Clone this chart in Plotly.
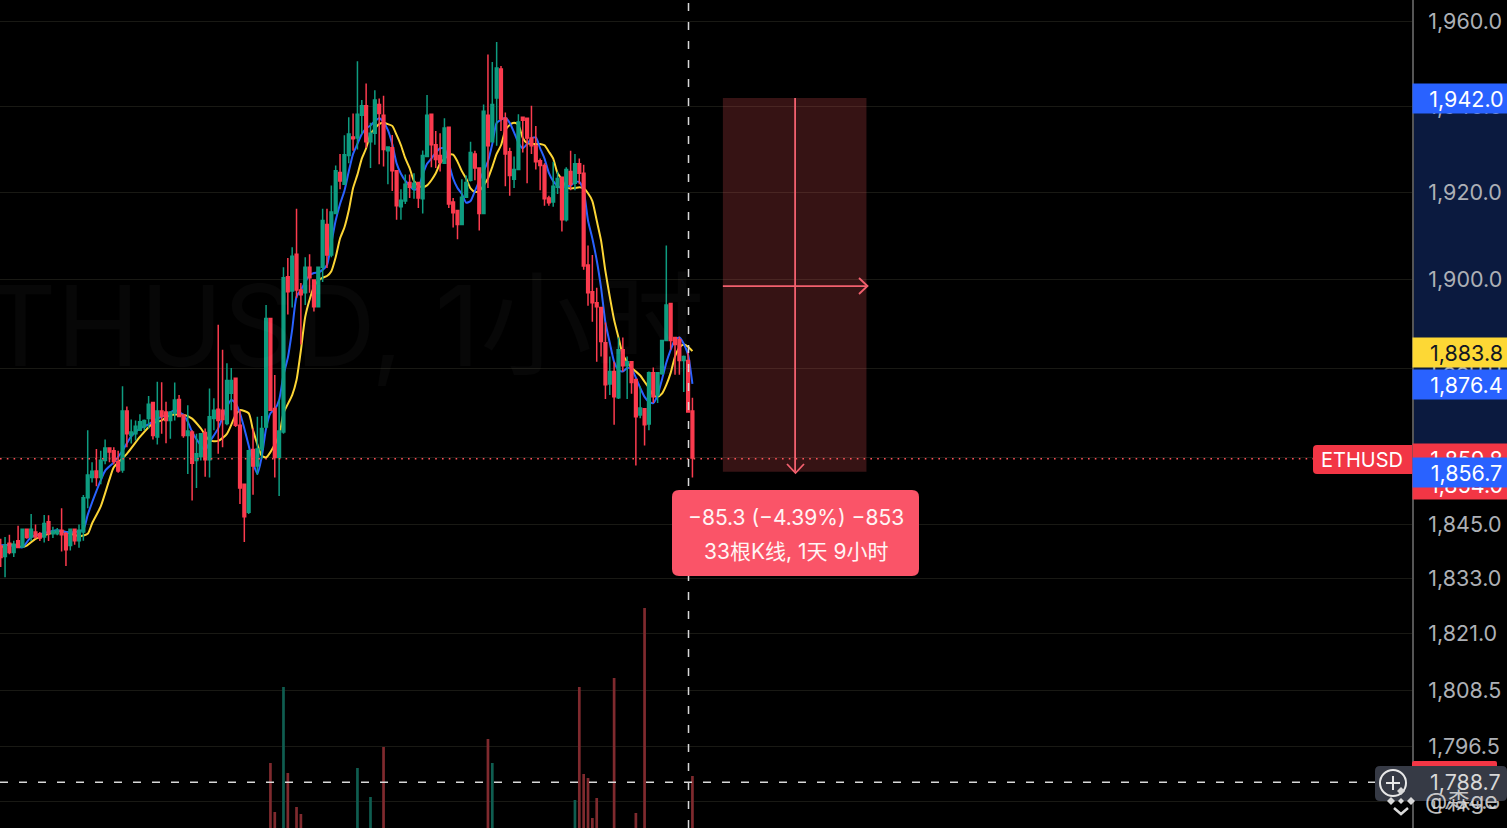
import numpy as np
import plotly.graph_objects as go

# prices, one entry per bar (bar 0 = leftmost)
opens = [1840.2,1837.9,1840.8,1838.8,1841.4,1840.0,1843.9,1842.2,1843.3,1842.9,
         1842.2,1845.6,1842.9,1842.9,1843.7,1842.9,1840.3,1843.9,1841.4,1843.3,
         1850.9,1855.4,1856.9,1855.4,1859.2,1862.0,1861.4,1859.0,1857.1,1870.3,
         1864.8,1865.2,1866.0,1866.7,1868.6,1872.2,1864.5,1870.3,1870.1,1868.2,
         1869.8,1872.9,1869.4,1864.8,1865.6,1859.2,1860.1,1865.5,1859.4,1868.6,
         1870.7,1870.5,1867.5,1874.3,1877.7,1867.1,1853.9,1847.7,1861.7,1858.0,
         1861.8,1866.7,1891.2,1870.9,1859.9,1865.6,
         1900.7,1897.5,1905.9,1897.7,1897.1,1902.9,1900.0,1893.9,1902.9,1912.7,
         1905.7,1915.2,1924.7,1922.0,1928.6,1932.9,1932.7,1938.0,1940.2,1931.8,
         1933.8,1940.5,1938.0,1929.7,1930.4,1925.1,1916.8,1918.1,1922.4,1921.1,
         1922.4,1918.6,1928.4,1938.2,1931.1,1928.6,1926.8,1935.2,1917.9,1915.9,
         1912.7,1919.0,1922.9,1929.0,1925.7,1915.2,1938.0,1931.8,1942.0,
         1948.8,1937.3,1929.5,1923.1,1925.4,1937.5,1937.3,1932.7,1930.9,1927.4,
         1926.3,1918.8,1917.9,1921.3,1923.6,1913.8,1924.9,1922.2,1926.7,1924.5,
         1903.4,1897.3,1894.8,1893.7,1885.7,1876.4,1879.2,1873.3,1884.1,1880.5,
         1881.4,1877.4,1869.4,1870.8,1867.4,1878.9,1873.9,1878.7,1886.2,1894.6,
         1886.9,1886.4,1881.7,1881.7,1870.3]
highs = [1841.8,1842.2,1842.7,1841.4,1844.7,1844.0,1844.0,1847.3,1845.0,1843.3,
         1847.1,1847.0,1844.5,1844.2,1848.6,1843.3,1844.0,1844.0,1845.0,1851.5,
         1866.0,1858.8,1861.8,1861.4,1863.9,1862.2,1862.2,1861.4,1875.9,1871.3,
         1868.4,1868.2,1869.6,1868.4,1873.7,1872.3,1876.9,1876.8,1872.4,1870.2,
         1876.7,1873.9,1869.6,1871.6,1866.0,1865.2,1865.3,1866.4,1875.4,1873.2,
         1889.8,1884.1,1881.1,1880.0,1877.8,1870.5,1854.0,1861.6,1866.4,1869.0,
         1869.2,1894.3,1891.4,1878.4,1872.8,1902.9,
         1905.0,1907.5,1916.3,1899.3,1905.2,1905.9,1900.1,1903.0,1916.3,1916.3,
         1921.7,1926.3,1929.0,1933.3,1937.5,1938.4,1950.6,1941.5,1945.4,1936.2,
         1943.8,1941.9,1942.5,1930.7,1933.4,1925.2,1920.8,1924.2,1924.2,1924.5,
         1922.5,1929.8,1942.7,1938.3,1934.3,1933.8,1937.3,1935.3,1918.8,1916.0,
         1923.1,1924.0,1931.8,1929.7,1925.8,1940.5,1952.2,1950.4,1955.1,
         1949.5,1938.6,1930.4,1928.4,1938.2,1937.6,1937.4,1940.2,1935.5,1927.9,
         1926.8,1919.3,1927.2,1924.9,1923.7,1925.9,1929.7,1929.0,1927.9,1926.5,
         1907.9,1905.7,1898.2,1893.8,1890.3,1882.6,1881.4,1886.9,1886.9,1882.6,
         1881.5,1877.6,1875.8,1870.9,1879.2,1880.1,1879.0,1886.3,1907.9,1894.7,
         1887.1,1887.1,1882.8,1883.7,1873.3]
lows = [1835.6,1833.3,1838.4,1837.8,1839.7,1839.8,1841.8,1841.3,1841.8,1841.3,
        1841.0,1841.3,1842.0,1842.6,1839.0,1835.8,1839.2,1840.5,1839.8,1841.4,
        1848.6,1854.3,1853.5,1853.9,1858.4,1858.8,1858.3,1856.5,1856.5,1862.2,
        1863.0,1863.7,1865.9,1866.0,1866.4,1863.9,1862.8,1865.2,1863.1,1864.1,
        1868.2,1869.0,1864.3,1856.2,1850.3,1853.1,1859.2,1855.6,1855.4,1866.0,
        1860.7,1862.2,1867.1,1870.5,1866.7,1849.5,1841.1,1847.3,1851.6,1856.0,
        1859.6,1866.4,1870.3,1855.4,1851.3,1865.2,
        1892.1,1893.7,1895.9,1885.3,1894.3,1897.1,1892.8,1893.7,1899.5,1902.7,
        1905.2,1915.1,1920.8,1921.9,1926.8,1929.7,1930.0,1933.6,1930.4,1925.7,
        1931.1,1926.6,1926.1,1922.0,1920.4,1913.8,1913.8,1917.4,1918.8,1918.6,
        1916.5,1915.2,1928.3,1925.9,1925.7,1924.9,1926.7,1916.5,1912.0,1909.3,
        1912.6,1918.9,1922.6,1922.9,1911.3,1915.1,1921.1,1931.7,1930.9,
        1934.3,1921.5,1919.3,1921.1,1925.3,1929.3,1922.2,1929.0,1925.4,1920.6,
        1917.0,1917.0,1916.8,1919.7,1911.1,1913.4,1920.6,1920.6,1922.0,1902.3,
        1894.1,1890.5,1881.4,1882.6,1873.0,1873.9,1867.2,1873.0,1879.2,1873.0,
        1874.2,1858.1,1868.7,1862.6,1866.0,1872.1,1872.1,1878.5,1886.1,1884.1,
        1878.5,1878.5,1874.6,1870.0,1855.4]
closes = [1837.7,1840.4,1838.8,1840.6,1839.9,1843.9,1842.1,1843.9,1842.2,1842.0,
          1845.2,1842.9,1843.5,1843.7,1842.7,1839.4,1843.9,1841.4,1843.7,1850.9,
          1856.0,1856.8,1855.4,1859.3,1862.0,1861.1,1859.0,1856.9,1870.3,1865.2,
          1865.6,1866.9,1867.9,1868.2,1871.8,1864.8,1870.3,1869.1,1868.2,1870.1,
          1872.8,1869.1,1864.8,1865.8,1858.6,1860.7,1865.2,1859.4,1869.0,1870.5,
          1868.2,1868.4,1877.2,1877.2,1867.1,1853.1,1846.7,1861.4,1858.0,1861.8,
          1866.4,1891.2,1870.5,1859.9,1865.8,1900.5,
          1897.3,1905.4,1897.7,1896.6,1902.9,1900.5,1893.9,1902.9,1913.6,1905.7,
          1915.6,1925.1,1922.7,1928.8,1933.6,1932.5,1938.2,1940.2,1931.8,1933.8,
          1941.5,1938.4,1930.0,1930.6,1925.1,1917.0,1918.3,1922.0,1921.3,1922.2,
          1918.8,1928.6,1938.0,1931.1,1927.7,1927.0,1935.0,1917.4,1915.4,1912.7,
          1919.0,1922.4,1929.3,1925.7,1915.2,1938.9,1930.9,1940.5,1949.0,
          1937.1,1929.0,1924.0,1925.4,1936.4,1936.8,1932.7,1930.9,1927.2,1926.3,
          1918.6,1917.7,1921.5,1923.3,1913.8,1925.4,1922.0,1926.7,1924.5,1903.2,
          1897.1,1894.8,1893.9,1886.0,1876.2,1879.2,1873.5,1884.1,1880.5,1881.4,
          1876.7,1869.0,1871.0,1867.2,1878.9,1873.5,1878.9,1886.2,1894.3,1886.2,
          1885.3,1881.7,1882.6,1870.1,1859.8]

# slow average (yellow)
slow_idx = [0,2,5,6,8,11,13,15,18,20,21,23,25,26,29,32,35,37,39,42,44,46,48,50,52,54,55,57,58,60,61,62,64,65,67,
            68,69,70,71,72,73,74,75,76,77,78,79,80,81,82,83,84,85,86,87,88,89,90,91,92,93,94,95,96,97,98,99,100,
            101,102,103,104,105,106,107,108,109,110,111,112,113,114,115,116,117,118,119,120,121,122,123,124,125,
            126,127,128,129,130,131,132,133,134,135,136,137,138,139,140,141,142,143,144,145,146,147,148,149,150,
            151,152,153,154,155,156,157,158,159]
slow_ma = [1839.9,1840.6,1840.0,1840.3,1841.8,1842.9,1843.5,1843.3,1842.4,1842.9,1845.2,1849.0,1855.0,1857.7,
           1860.7,1864.5,1867.6,1868.2,1869.4,1869.5,1868.6,1866.4,1863.7,1863.6,1865.2,1869.4,1870.5,1869.8,
           1866.0,1860.3,1859.9,1861.1,1864.8,1869.8,1873.9,1877.3,1884.0,1891.6,1895.5,1898.4,1899.8,1900.5,
           1900.9,1902.0,1905.2,1909.5,1912.0,1915.9,1921.1,1924.2,1927.9,1930.3,1933.6,1934.9,1935.9,1936.2,
           1935.9,1935.5,1933.4,1931.0,1928.0,1925.7,1922.7,1921.7,1921.3,1921.7,1922.9,1924.5,1926.8,1927.9,
           1928.8,1928.8,1927.2,1925.0,1923.3,1921.0,1920.2,1920.4,1921.7,1923.3,1926.0,1929.0,1931.0,1934.5,
           1935.7,1936.2,1935.7,1932.7,1931.5,1931.3,1931.3,1931.3,1931.0,1929.5,1927.9,1924.5,1923.1,1921.3,
           1921.0,1921.1,1921.3,1921.0,1919.9,1918.1,1913.6,1909.0,1902.0,1896.2,1890.9,1886.9,1883.0,1881.4,
           1880.0,1879.2,1878.3,1876.9,1875.5,1873.9,1873.5,1874.2,1876.2,1878.9,1882.6,1884.6,1885.3,1884.8,1883.8]

# fast average (blue)
fast_idx = [0,2,4,5,7,9,11,13,15,17,19,20,22,24,26,28,30,32,34,36,38,40,42,43,44,46,47,48,50,52,53,54,55,56,57,
            58,59,60,61,62,63,64,65,66,67,68,69,70,71,72,73,74,75,76,77,78,79,80,81,82,83,84,85,86,87,88,89,90,
            91,92,93,94,95,96,97,98,99,100,101,102,103,104,105,106,107,108,109,110,111,112,113,114,115,116,117,
            118,119,120,121,122,123,124,125,126,127,128,129,130,131,132,133,134,135,136,137,138,139,140,141,142,
            143,144,145,146,147,148,149,150,151,152,153,154,155,156,157,158,159]
fast_ma = [1840.4,1840.4,1840.0,1839.9,1842.2,1842.8,1843.3,1843.7,1843.3,1843.3,1843.9,1847.1,1852.4,1856.9,
           1858.8,1861.4,1864.6,1866.4,1867.3,1868.6,1869.4,1870.5,1869.4,1867.9,1865.6,1862.6,1861.4,1863.3,
           1866.4,1871.3,1872.8,1872.0,1869.8,1866.4,1862.6,1858.8,1856.2,1860.0,1866.4,1869.8,1870.7,1872.8,
           1878.4,1882.3,1888.7,1896.2,1897.7,1899.5,1901.1,1901.6,1901.7,1902.3,1903.4,1908.4,1913.6,1917.4,
           1920.4,1924.9,1929.0,1931.3,1933.6,1934.9,1935.6,1936.6,1937.3,1936.4,1934.5,1931.3,1926.8,1924.4,
           1922.8,1921.6,1920.7,1921.1,1924.2,1926.7,1927.9,1929.3,1930.3,1930.3,1926.9,1923.3,1921.1,1919.7,
           1917.7,1918.1,1920.4,1922.7,1925.0,1927.3,1931.3,1936.2,1936.9,1937.4,1936.2,1934.0,1931.6,1930.3,
           1931.3,1932.6,1932.8,1930.3,1927.9,1924.6,1922.7,1921.6,1921.1,1921.6,1921.6,1922.5,1922.5,1920.4,
           1913.6,1909.5,1904.5,1898.2,1890.3,1885.7,1881.4,1879.6,1879.2,1880.0,1879.8,1877.8,1875.5,1873.5,
           1872.4,1872.1,1873.9,1877.4,1881.2,1884.1,1886.4,1886.9,1885.5,1883.0,1876.4]

# only the volume bars tall enough to show above the bottom edge
vol_idx = [62,63,65,66,68,69,82,85,88,112,113,132,133,134,135,136,137,141,146,148,159]
vol_val = [137,88,213,127,93,86,132,103,153,161,137,100,213,126,122,82,102,222,87,292,124]
vol_up = [65,82,85,113,132]

tick_prices = [1960,1940,1920,1900,1880,1860,1845,1833,1821,1808.5,1796.5,1784.5]
tick_labels = ["1,960.0","1,940.0","1,920.0","1,900.0","1,880.0","1,860.0","1,845.0",
               "1,833.0","1,821.0","1,808.5","1,796.5","1,784.5"]

W, H, PLOT_W = 1507, 828, 1412
GREEN, RED = "#0e9c80", "#fb3b4e"
FONT = "Inter, Noto Sans CJK SC, sans-serif"
y_range = [np.log10(1778.9), np.log10(1965.0)]
x_range = [-0.16, 324.4]

def px(x):
    return x / PLOT_W

def py(y):
    return 1 - y / H

def rounded(x0, y0, x1, y1, r, left=True, right=True):
    # rounded rect in page pixels, returned as a paper-coordinates path
    rl = r if left else 0
    rr = r if right else 0
    return (f"M {px(x0+rl)},{py(y0)} L {px(x1-rr)},{py(y0)} Q {px(x1)},{py(y0)} {px(x1)},{py(y0+rr)} "
            f"L {px(x1)},{py(y1-rr)} Q {px(x1)},{py(y1)} {px(x1-rr)},{py(y1)} L {px(x0+rl)},{py(y1)} "
            f"Q {px(x0)},{py(y1)} {px(x0)},{py(y1-rl)} L {px(x0)},{py(y0+rl)} Q {px(x0)},{py(y0)} {px(x0+rl)},{py(y0)} Z")

def page_text(text, x, y, size, color):
    return dict(text=text, xref="paper", yref="paper", x=px(x), y=py(y), xanchor="center", yanchor="middle",
                showarrow=False, font=dict(family=FONT, size=size, color=color))

fig = go.Figure()

fig.add_trace(go.Scatter(x=slow_idx, y=slow_ma, mode="lines", yaxis="y",
                         line=dict(color="#fcd535", width=2, shape="spline", smoothing=0.6), hoverinfo="skip"))
fig.add_trace(go.Scatter(x=fast_idx, y=fast_ma, mode="lines", yaxis="y",
                         line=dict(color="#2962ff", width=2, shape="spline", smoothing=0.6), hoverinfo="skip"))
fig.add_trace(go.Bar(x=vol_idx, y=vol_val, width=0.62, yaxis="y3", hoverinfo="skip",
                     marker=dict(color=["#0f5d50" if i in vol_up else "#7f2a2e" for i in vol_idx], line_width=0)))
fig.add_trace(go.Candlestick(x=list(range(len(opens))), open=opens, high=highs, low=lows, close=closes,
                             yaxis="y2", whiskerwidth=0, hoverinfo="skip",
                             increasing=dict(line=dict(color=GREEN, width=1.5), fillcolor=GREEN),
                             decreasing=dict(line=dict(color=RED, width=1.5), fillcolor=RED)))

shapes = [
    # navy band on the price scale between the measured prices
    dict(type="rect", xref="paper", yref="y", x0=1, x1=px(W), y0=1856.7, y1=1942.0, layer="below",
         fillcolor="#0b1a3f", line_width=0),
    # last price dotted line
    dict(type="line", xref="paper", yref="y", x0=0, x1=px(1315), y0=1859.6, y1=1859.6,
         line=dict(color="#ff5058", width=1.6, dash="1.6px,5.2px")),
    # crosshair
    dict(type="line", xref="x", yref="paper", x0=158.1, x1=158.1, y0=0, y1=1,
         line=dict(color="#d8d8d8", width=1.5, dash="8px,11px")),
    dict(type="line", xref="paper", yref="y", x0=0, x1=px(1376), y0=1788.7, y1=1788.7,
         line=dict(color="#d8d8d8", width=1.5, dash="8px,11px")),
    # measure tool
    dict(type="rect", xref="x", yref="y", x0=166, x1=199, y0=1856.7, y1=1942.0,
         fillcolor="rgba(255,90,95,0.21)", line_width=0),
    dict(type="line", xref="x", yref="y", x0=182.6, x1=182.6, y0=1856.7, y1=1942.0, line=dict(color="#f2606e", width=1.8)),
    dict(type="line", xref="x", yref="y", x0=166, x1=199, y0=1898.6, y1=1898.6, line=dict(color="#f2606e", width=1.8)),
    dict(type="path", xref="paper", yref="paper", line=dict(color="#f2606e", width=1.8),
         path=f"M {px(787)},{py(464)} L {px(795.5)},{py(473)} L {px(804)},{py(464)}"),
    dict(type="path", xref="paper", yref="paper", line=dict(color="#f2606e", width=1.8),
         path=f"M {px(859)},{py(278)} L {px(867.5)},{py(286)} L {px(859)},{py(294)}"),
    dict(type="path", xref="paper", yref="paper", fillcolor="#fa5468", line_width=0,
         path=rounded(672, 490, 919, 576, 7)),
    # symbol flag
    dict(type="path", xref="paper", yref="paper", fillcolor="#f23645", line_width=0,
         path=rounded(1313, 445, 1412, 474, 4, right=False)),
    # scale stripes and crosshair tag
    dict(type="path", xref="paper", yref="paper", fillcolor="#f23645", line_width=0,
         path=rounded(1412, 761, 1497, 770, 2)),
    dict(type="path", xref="paper", yref="paper", fillcolor="#363a45", line_width=0,
         path=rounded(1375, 766, 1507, 801, 5)),
    dict(type="circle", xref="paper", yref="paper", x0=px(1380), x1=px(1406), y0=py(770), y1=py(796),
         line=dict(color="#e8e8e8", width=2)),
    dict(type="line", xref="paper", yref="paper", x0=px(1386), x1=px(1400), y0=py(783), y1=py(783),
         line=dict(color="#e8e8e8", width=2)),
    dict(type="line", xref="paper", yref="paper", x0=px(1393), x1=px(1393), y0=py(776), y1=py(790),
         line=dict(color="#e8e8e8", width=2)),
]
# small diamond logo of the watermark
for cx, cy, r in [(1401, 791, 4), (1391, 801, 4), (1411, 801, 4), (1401, 801, 3)]:
    shapes.append(dict(type="path", xref="paper", yref="paper", fillcolor="#d9d9d9", line_width=0,
                       path=f"M {px(cx)},{py(cy-r)} L {px(cx+r)},{py(cy)} L {px(cx)},{py(cy+r)} L {px(cx-r)},{py(cy)} Z"))
shapes.append(dict(type="path", xref="paper", yref="paper", line=dict(color="#d9d9d9", width=2.5),
                   path=f"M {px(1394)},{py(808)} L {px(1401)},{py(814)} L {px(1408)},{py(808)}"))

annotations = [
    page_text("ETHUSD, 1小时", 310, 325, 112, "rgba(255,255,255,0.028)"),  # faint chart watermark
    page_text("−85.3 (−4.39%) −853", 795.5, 517, 21, "#fff4f4"),
    page_text("33根K线, 1天 9小时", 795.5, 551, 21, "#fff4f4"),
    page_text("ETHUSD", 1362, 459.5, 20, "#ffffff"),
    page_text("1,788.7", 1465.5, 782, 21.5, "#d8d8d8"),
    page_text("@森ge", 1461, 801, 23, "rgba(225,225,225,0.85)"),
]

# price tags on the scale, later ones cover earlier ones
tags = [
    (1942.0, "1,942.0", "#2962ff", "#ffffff"),
    (1883.8, "1,883.8", "#fdd835", "#131722"),
    (1876.4, "1,876.4", "#2962ff", "#ffffff"),
    (1854.0, "1,854.0", "#f23645", "#ffffff"),
    (1859.8, "1,859.8", "#f23645", "#ffffff"),
    (1856.7, "1,856.7", "#2962ff", "#ffffff"),
]
for price, label, bg, fg in tags:
    annotations.append(dict(text=label, xref="paper", yref="y", x=1, y=np.log10(price), xanchor="left",
                            yanchor="middle", yshift=-1, showarrow=False, width=107, height=29, bgcolor=bg,
                            borderpad=0, font=dict(family=FONT, size=21.5, color=fg)))

axis_y = dict(type="log", range=y_range, fixedrange=True)
fig.update_layout(
    width=W, height=H, margin=dict(l=0, r=W - PLOT_W, t=0, b=0),
    paper_bgcolor="#000000", plot_bgcolor="#000000", showlegend=False, boxgap=0.12, dragmode=False,
    xaxis=dict(range=x_range, visible=False, rangeslider=dict(visible=False), fixedrange=True),
    yaxis=dict(axis_y, side="right", tickmode="array", tickvals=tick_prices, ticktext=tick_labels,
               ticks="", ticklabelstandoff=10, showgrid=True, gridcolor="#191914", gridwidth=1, zeroline=False,
               showline=True, linecolor="#555555", linewidth=2,
               tickfont=dict(family=FONT, size=21.5, color="#adb0b6")),
    yaxis2=dict(axis_y, overlaying="y", side="right", visible=False, showgrid=False),
    yaxis3=dict(range=[72, 900], overlaying="y", side="right", visible=False, showgrid=False, fixedrange=True),
    shapes=shapes, annotations=annotations,
)

fig.write_html("out.html", config={"displayModeBar": False},
               post_script="document.body.style.margin='0';document.documentElement.style.overflow='hidden';")
